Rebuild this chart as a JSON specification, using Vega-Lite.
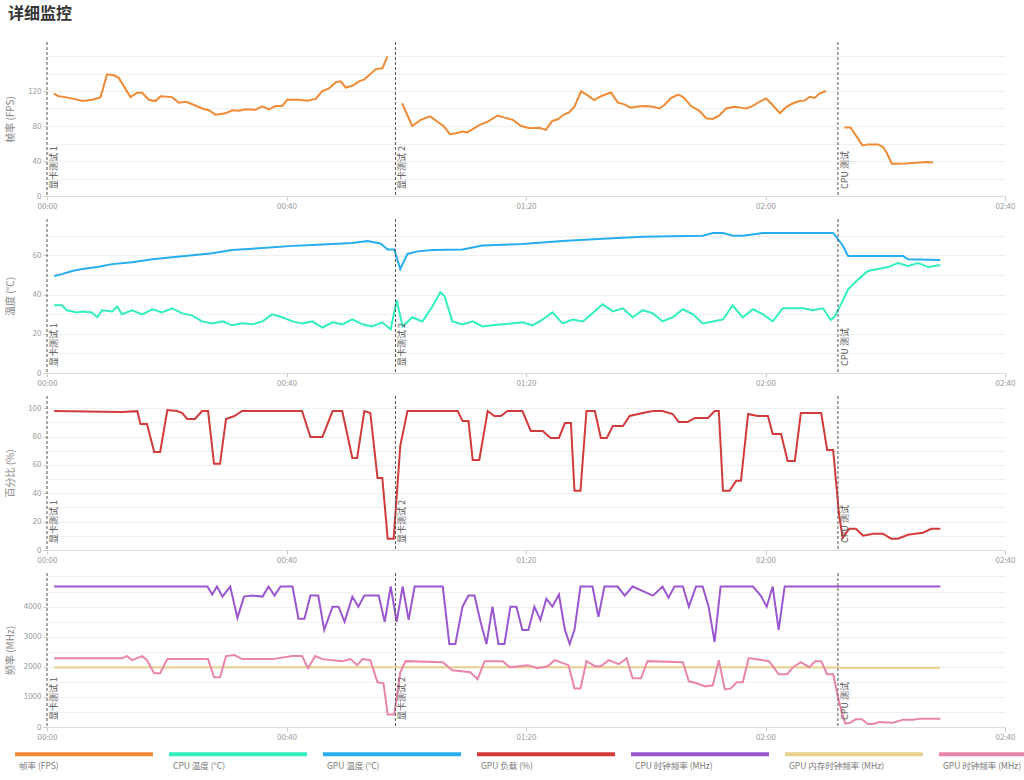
{
  "$schema": "https://vega.github.io/schema/vega-lite/v6.json",
  "background": "white",
  "padding": {"left": 5, "top": 5, "right": 5, "bottom": 5},
  "title": {"text": "详细监控", "anchor": "start", "fontSize": 16, "fontWeight": "bold", "color": "#333", "font": "Noto Sans CJK SC", "offset": 20, "dx": 3},
  "config": {
    "font": "Noto Sans CJK SC",
    "view": {"stroke": null},
    "axis": {"labelColor": "#999", "labelFontSize": 8, "titleColor": "#888", "titleFontSize": 10, "titleFontWeight": "normal", "gridColor": "#f0f0f0", "domainColor": "#ddd", "tickColor": "#ccc", "tickSize": 4, "labelOverlap": false},
    "axisY": {"titleX": -32}
  },
  "datasets": {
    "marks": [
      {"t": 0, "label": "显卡测试 1"},
      {"t": 58.2, "label": "显卡测试 2"},
      {"t": 132.1, "label": "CPU 测试"}
    ],
    "fps": [
      {"t": 1.12, "v": 117, "seg": 1}, {"t": 1.95, "v": 114, "seg": 1}, {"t": 3.07, "v": 113, "seg": 1}, {"t": 4.46, "v": 111, "seg": 1}, {"t": 5.96, "v": 108.5, "seg": 1}, {"t": 7.53, "v": 110, "seg": 1}, {"t": 8.92, "v": 112.6, "seg": 1}, {"t": 10.03, "v": 139, "seg": 1}, {"t": 11.15, "v": 138, "seg": 1}, {"t": 11.98, "v": 135, "seg": 1}, {"t": 13.94, "v": 113, "seg": 1}, {"t": 15.05, "v": 118, "seg": 1}, {"t": 15.89, "v": 118, "seg": 1}, {"t": 17.0, "v": 110, "seg": 1}, {"t": 18.12, "v": 108.5, "seg": 1}, {"t": 18.95, "v": 114, "seg": 1}, {"t": 20.9, "v": 113, "seg": 1}, {"t": 22.02, "v": 106.6, "seg": 1}, {"t": 23.13, "v": 107.7, "seg": 1}, {"t": 23.69, "v": 106.6, "seg": 1}, {"t": 25.92, "v": 100, "seg": 1}, {"t": 27.03, "v": 98, "seg": 1}, {"t": 28.15, "v": 93, "seg": 1}, {"t": 29.82, "v": 94.5, "seg": 1}, {"t": 30.94, "v": 98, "seg": 1}, {"t": 32.05, "v": 97.5, "seg": 1}, {"t": 33.17, "v": 99, "seg": 1}, {"t": 34.84, "v": 98.7, "seg": 1}, {"t": 35.95, "v": 102.4, "seg": 1}, {"t": 37.07, "v": 99, "seg": 1}, {"t": 38.18, "v": 103, "seg": 1}, {"t": 39.3, "v": 103, "seg": 1}, {"t": 40.13, "v": 110, "seg": 1}, {"t": 42.08, "v": 110, "seg": 1}, {"t": 43.48, "v": 109, "seg": 1}, {"t": 44.87, "v": 111, "seg": 1}, {"t": 45.99, "v": 120, "seg": 1}, {"t": 47.1, "v": 123, "seg": 1}, {"t": 48.22, "v": 130, "seg": 1}, {"t": 49.05, "v": 131, "seg": 1}, {"t": 49.89, "v": 124, "seg": 1}, {"t": 51.0, "v": 126, "seg": 1}, {"t": 52.12, "v": 131, "seg": 1}, {"t": 52.95, "v": 133, "seg": 1}, {"t": 53.79, "v": 138, "seg": 1}, {"t": 54.9, "v": 145, "seg": 1}, {"t": 56.02, "v": 146, "seg": 1}, {"t": 56.86, "v": 159.5, "seg": 1},
      {"t": 59.3, "v": 106, "seg": 2}, {"t": 61.0, "v": 80, "seg": 2}, {"t": 62.4, "v": 87, "seg": 2}, {"t": 64.0, "v": 91, "seg": 2}, {"t": 65.4, "v": 84, "seg": 2}, {"t": 66.3, "v": 79.4, "seg": 2}, {"t": 67.3, "v": 70.7, "seg": 2}, {"t": 68.3, "v": 71.8, "seg": 2}, {"t": 69.4, "v": 73.7, "seg": 2}, {"t": 70.2, "v": 72.6, "seg": 2}, {"t": 72.2, "v": 81, "seg": 2}, {"t": 73.6, "v": 85, "seg": 2}, {"t": 75.3, "v": 92, "seg": 2}, {"t": 76.4, "v": 89.6, "seg": 2}, {"t": 77.8, "v": 87, "seg": 2}, {"t": 79.2, "v": 80, "seg": 2}, {"t": 80.6, "v": 77.5, "seg": 2}, {"t": 82.2, "v": 78, "seg": 2}, {"t": 83.3, "v": 75.6, "seg": 2}, {"t": 84.4, "v": 85.8, "seg": 2}, {"t": 85.3, "v": 87.7, "seg": 2}, {"t": 86.4, "v": 93.4, "seg": 2}, {"t": 87.2, "v": 95.6, "seg": 2}, {"t": 88.1, "v": 102, "seg": 2}, {"t": 89.2, "v": 119.8, "seg": 2}, {"t": 90.3, "v": 115, "seg": 2}, {"t": 91.4, "v": 109.6, "seg": 2}, {"t": 92.5, "v": 114, "seg": 2}, {"t": 94.2, "v": 118.3, "seg": 2}, {"t": 95.3, "v": 107, "seg": 2}, {"t": 96.4, "v": 104.7, "seg": 2}, {"t": 97.5, "v": 101, "seg": 2}, {"t": 98.7, "v": 102.4, "seg": 2}, {"t": 100.0, "v": 102.8, "seg": 2}, {"t": 101.2, "v": 102, "seg": 2}, {"t": 102.3, "v": 100, "seg": 2}, {"t": 103.1, "v": 104, "seg": 2}, {"t": 104.2, "v": 112, "seg": 2}, {"t": 105.4, "v": 116, "seg": 2}, {"t": 106.2, "v": 113.4, "seg": 2}, {"t": 107.6, "v": 102.8, "seg": 2}, {"t": 109.0, "v": 97, "seg": 2}, {"t": 110.1, "v": 88.8, "seg": 2}, {"t": 111.2, "v": 88, "seg": 2}, {"t": 112.3, "v": 92, "seg": 2}, {"t": 113.4, "v": 100, "seg": 2}, {"t": 114.8, "v": 102, "seg": 2}, {"t": 115.9, "v": 101, "seg": 2}, {"t": 116.8, "v": 100, "seg": 2}, {"t": 117.9, "v": 103, "seg": 2}, {"t": 119.0, "v": 107.7, "seg": 2}, {"t": 120.1, "v": 111.5, "seg": 2}, {"t": 121.2, "v": 104, "seg": 2}, {"t": 122.4, "v": 94.5, "seg": 2}, {"t": 123.5, "v": 102, "seg": 2}, {"t": 124.6, "v": 106, "seg": 2}, {"t": 125.7, "v": 108.5, "seg": 2}, {"t": 126.5, "v": 109, "seg": 2}, {"t": 127.4, "v": 113.4, "seg": 2}, {"t": 128.2, "v": 112, "seg": 2}, {"t": 129.0, "v": 117, "seg": 2}, {"t": 130.1, "v": 120, "seg": 2},
      {"t": 133.2, "v": 78.3, "seg": 3}, {"t": 134.2, "v": 78.3, "seg": 3}, {"t": 136.2, "v": 57.8, "seg": 3}, {"t": 137.1, "v": 59, "seg": 3}, {"t": 138.8, "v": 59, "seg": 3}, {"t": 139.6, "v": 56, "seg": 3}, {"t": 140.2, "v": 50, "seg": 3}, {"t": 141.1, "v": 37, "seg": 3}, {"t": 142.1, "v": 37, "seg": 3}, {"t": 143.5, "v": 37.2, "seg": 3}, {"t": 145.2, "v": 38, "seg": 3}, {"t": 146.9, "v": 38.8, "seg": 3}, {"t": 148.0, "v": 38.4, "seg": 3}
    ],
    "gpuTemp": [
      {"t": 1.2, "v": 49.4}, {"t": 2.5, "v": 50.4}, {"t": 4.2, "v": 52}, {"t": 5.9, "v": 53}, {"t": 8.4, "v": 54}, {"t": 10.9, "v": 55.5}, {"t": 14.2, "v": 56.5}, {"t": 17.6, "v": 58}, {"t": 20.9, "v": 59}, {"t": 24.3, "v": 60}, {"t": 27.6, "v": 61}, {"t": 30.9, "v": 62.7}, {"t": 36.0, "v": 63.7}, {"t": 41.0, "v": 64.8}, {"t": 44.3, "v": 65.3}, {"t": 47.7, "v": 65.8}, {"t": 51.0, "v": 66.3}, {"t": 53.5, "v": 67.3}, {"t": 55.7, "v": 66}, {"t": 56.9, "v": 63}, {"t": 58.0, "v": 63}, {"t": 59.0, "v": 53}, {"t": 60.2, "v": 60.7}, {"t": 61.9, "v": 62}, {"t": 64.4, "v": 62.7}, {"t": 69.4, "v": 63}, {"t": 72.7, "v": 65}, {"t": 79.4, "v": 65.8}, {"t": 86.1, "v": 67.3}, {"t": 92.8, "v": 68.4}, {"t": 99.5, "v": 69.4}, {"t": 109.5, "v": 70}, {"t": 111.2, "v": 71.4}, {"t": 112.9, "v": 71.4}, {"t": 114.6, "v": 70}, {"t": 116.2, "v": 70}, {"t": 119.6, "v": 71.4}, {"t": 131.3, "v": 71.4}, {"t": 132.9, "v": 65}, {"t": 133.8, "v": 59.6}, {"t": 143.0, "v": 59.6}, {"t": 143.8, "v": 58}, {"t": 149.2, "v": 57.6}
    ],
    "cpuTemp": [
      {"t": 1.2, "v": 34.5}, {"t": 2.5, "v": 34.5}, {"t": 3.3, "v": 32}, {"t": 5.0, "v": 30.9}, {"t": 5.9, "v": 31.4}, {"t": 7.5, "v": 30.9}, {"t": 8.4, "v": 28.4}, {"t": 9.2, "v": 32}, {"t": 10.9, "v": 31.4}, {"t": 11.7, "v": 34}, {"t": 12.5, "v": 30}, {"t": 14.2, "v": 32}, {"t": 15.9, "v": 29.9}, {"t": 17.6, "v": 32.5}, {"t": 19.2, "v": 30.9}, {"t": 20.9, "v": 33}, {"t": 22.6, "v": 30.4}, {"t": 24.2, "v": 29.4}, {"t": 25.9, "v": 26.3}, {"t": 27.6, "v": 25.3}, {"t": 29.3, "v": 26.3}, {"t": 30.9, "v": 24.3}, {"t": 32.6, "v": 25.3}, {"t": 34.3, "v": 24.8}, {"t": 36.0, "v": 26.3}, {"t": 37.6, "v": 29.9}, {"t": 39.3, "v": 28.4}, {"t": 41.0, "v": 26.3}, {"t": 42.6, "v": 25.3}, {"t": 44.3, "v": 26.3}, {"t": 46.0, "v": 23.2}, {"t": 47.7, "v": 25.8}, {"t": 49.3, "v": 24.8}, {"t": 51.0, "v": 27.3}, {"t": 52.7, "v": 24.8}, {"t": 54.3, "v": 23.7}, {"t": 56.0, "v": 25.8}, {"t": 57.4, "v": 22.2}, {"t": 58.4, "v": 37.1}, {"t": 59.4, "v": 23.7}, {"t": 61.0, "v": 28.4}, {"t": 62.7, "v": 26.3}, {"t": 64.4, "v": 34}, {"t": 65.7, "v": 41.2}, {"t": 66.4, "v": 39.1}, {"t": 67.7, "v": 26.3}, {"t": 69.4, "v": 24.8}, {"t": 71.1, "v": 26.3}, {"t": 72.7, "v": 23.7}, {"t": 74.4, "v": 24.3}, {"t": 76.1, "v": 24.8}, {"t": 77.8, "v": 25.3}, {"t": 79.4, "v": 25.8}, {"t": 81.1, "v": 24.3}, {"t": 82.8, "v": 27.3}, {"t": 84.4, "v": 30.9}, {"t": 86.1, "v": 25.3}, {"t": 87.8, "v": 27.3}, {"t": 89.5, "v": 26.3}, {"t": 91.1, "v": 30.4}, {"t": 92.8, "v": 35}, {"t": 94.5, "v": 31.4}, {"t": 96.2, "v": 33}, {"t": 97.8, "v": 28.4}, {"t": 99.5, "v": 32}, {"t": 101.2, "v": 30.4}, {"t": 102.8, "v": 26.3}, {"t": 104.5, "v": 28.4}, {"t": 106.2, "v": 32.5}, {"t": 107.9, "v": 29.9}, {"t": 109.5, "v": 25.3}, {"t": 111.2, "v": 26.3}, {"t": 112.9, "v": 27.3}, {"t": 114.5, "v": 34.5}, {"t": 116.2, "v": 28.4}, {"t": 117.9, "v": 32.5}, {"t": 119.6, "v": 29.9}, {"t": 121.2, "v": 26.3}, {"t": 122.9, "v": 33}, {"t": 124.6, "v": 33}, {"t": 126.3, "v": 33}, {"t": 127.9, "v": 32}, {"t": 129.6, "v": 33}, {"t": 130.9, "v": 27}, {"t": 131.6, "v": 29}, {"t": 132.6, "v": 35}, {"t": 133.8, "v": 42.7}, {"t": 135.5, "v": 47.8}, {"t": 137.1, "v": 52}, {"t": 138.8, "v": 53}, {"t": 140.5, "v": 54}, {"t": 142.1, "v": 56}, {"t": 143.8, "v": 54.5}, {"t": 145.5, "v": 56}, {"t": 147.2, "v": 54}, {"t": 149.2, "v": 55}
    ],
    "gpuLoad": [
      {"t": 1.2, "v": 98.1}, {"t": 12.5, "v": 97.4}, {"t": 15.1, "v": 98}, {"t": 15.6, "v": 89}, {"t": 16.7, "v": 89}, {"t": 17.9, "v": 69.2}, {"t": 18.9, "v": 69.2}, {"t": 20.1, "v": 98.8}, {"t": 21.7, "v": 98.1}, {"t": 22.6, "v": 96.7}, {"t": 23.4, "v": 92.5}, {"t": 24.7, "v": 92.5}, {"t": 25.9, "v": 98.1}, {"t": 26.9, "v": 98.1}, {"t": 27.9, "v": 60.8}, {"t": 28.9, "v": 60.8}, {"t": 29.9, "v": 92.5}, {"t": 31.3, "v": 94.6}, {"t": 32.6, "v": 98.1}, {"t": 42.6, "v": 98.1}, {"t": 44.0, "v": 79.8}, {"t": 46.0, "v": 79.8}, {"t": 47.7, "v": 98.1}, {"t": 49.3, "v": 98.1}, {"t": 51.0, "v": 65}, {"t": 51.8, "v": 65}, {"t": 53.0, "v": 98.1}, {"t": 54.0, "v": 96.7}, {"t": 55.2, "v": 50.9}, {"t": 56.0, "v": 50.9}, {"t": 56.9, "v": 8}, {"t": 57.9, "v": 8}, {"t": 59.0, "v": 73.5}, {"t": 60.2, "v": 98.1}, {"t": 68.6, "v": 98.1}, {"t": 69.4, "v": 91}, {"t": 70.4, "v": 91}, {"t": 71.1, "v": 63.6}, {"t": 72.2, "v": 63.6}, {"t": 73.6, "v": 98.1}, {"t": 74.7, "v": 94.6}, {"t": 75.8, "v": 94.6}, {"t": 76.9, "v": 98.1}, {"t": 79.4, "v": 98.1}, {"t": 80.8, "v": 84}, {"t": 82.8, "v": 84}, {"t": 84.1, "v": 79.1}, {"t": 85.5, "v": 79.1}, {"t": 86.5, "v": 89.6}, {"t": 87.5, "v": 89.6}, {"t": 88.1, "v": 41.8}, {"t": 89.1, "v": 41.8}, {"t": 90.1, "v": 98.1}, {"t": 91.5, "v": 98.1}, {"t": 92.5, "v": 79.1}, {"t": 93.5, "v": 79.1}, {"t": 94.5, "v": 87.5}, {"t": 96.2, "v": 87.5}, {"t": 97.3, "v": 94.6}, {"t": 99.5, "v": 96.7}, {"t": 101.2, "v": 98.1}, {"t": 102.8, "v": 98.1}, {"t": 104.5, "v": 96}, {"t": 105.5, "v": 90.4}, {"t": 107.0, "v": 90.4}, {"t": 108.2, "v": 93.2}, {"t": 110.4, "v": 93.2}, {"t": 111.5, "v": 98.1}, {"t": 112.2, "v": 98.1}, {"t": 112.9, "v": 41.8}, {"t": 114.0, "v": 41.8}, {"t": 115.1, "v": 48.8}, {"t": 115.9, "v": 48.8}, {"t": 117.1, "v": 96}, {"t": 118.7, "v": 94.6}, {"t": 120.4, "v": 94.6}, {"t": 121.2, "v": 81.9}, {"t": 122.6, "v": 81.9}, {"t": 123.7, "v": 62.9}, {"t": 124.9, "v": 62.9}, {"t": 125.9, "v": 96.7}, {"t": 129.3, "v": 96.7}, {"t": 130.3, "v": 70.6}, {"t": 131.3, "v": 70.6}, {"t": 132.3, "v": 24.2}, {"t": 132.9, "v": 8.7}, {"t": 134.0, "v": 15}, {"t": 135.1, "v": 15}, {"t": 136.3, "v": 10.1}, {"t": 138.0, "v": 11.5}, {"t": 139.6, "v": 11.5}, {"t": 141.0, "v": 8}, {"t": 142.1, "v": 8}, {"t": 143.8, "v": 10.8}, {"t": 145.0, "v": 11.5}, {"t": 146.3, "v": 12.2}, {"t": 147.7, "v": 15}, {"t": 149.2, "v": 15}
    ],
    "cpuClock": [
      {"t": 1.2, "v": 4667}, {"t": 26.8, "v": 4667}, {"t": 27.6, "v": 4399}, {"t": 28.4, "v": 4667}, {"t": 29.3, "v": 4332}, {"t": 30.6, "v": 4667}, {"t": 31.8, "v": 3628}, {"t": 32.9, "v": 4332}, {"t": 34.3, "v": 4365}, {"t": 36.0, "v": 4332}, {"t": 37.0, "v": 4667}, {"t": 38.0, "v": 4365}, {"t": 39.0, "v": 4667}, {"t": 41.0, "v": 4667}, {"t": 42.0, "v": 3595}, {"t": 43.0, "v": 3595}, {"t": 44.0, "v": 4365}, {"t": 45.3, "v": 4365}, {"t": 46.3, "v": 3226}, {"t": 47.7, "v": 3997}, {"t": 48.7, "v": 3997}, {"t": 49.7, "v": 3494}, {"t": 51.0, "v": 4332}, {"t": 52.0, "v": 3997}, {"t": 53.0, "v": 4365}, {"t": 55.4, "v": 4365}, {"t": 56.4, "v": 3494}, {"t": 57.4, "v": 4667}, {"t": 58.4, "v": 3494}, {"t": 59.4, "v": 4667}, {"t": 60.4, "v": 3561}, {"t": 61.4, "v": 4667}, {"t": 66.1, "v": 4667}, {"t": 67.2, "v": 2757}, {"t": 68.2, "v": 2757}, {"t": 69.4, "v": 3997}, {"t": 70.4, "v": 4365}, {"t": 71.4, "v": 4365}, {"t": 72.4, "v": 3494}, {"t": 73.4, "v": 2757}, {"t": 74.4, "v": 3997}, {"t": 75.4, "v": 2757}, {"t": 76.4, "v": 2757}, {"t": 77.4, "v": 3997}, {"t": 78.4, "v": 3997}, {"t": 79.4, "v": 3226}, {"t": 80.4, "v": 3226}, {"t": 81.4, "v": 3997}, {"t": 82.4, "v": 3561}, {"t": 83.4, "v": 4265}, {"t": 84.4, "v": 3997}, {"t": 85.5, "v": 4399}, {"t": 86.5, "v": 3226}, {"t": 87.3, "v": 2757}, {"t": 88.1, "v": 3226}, {"t": 89.1, "v": 4667}, {"t": 91.1, "v": 4667}, {"t": 92.1, "v": 3662}, {"t": 93.1, "v": 4667}, {"t": 95.3, "v": 4667}, {"t": 96.5, "v": 4365}, {"t": 97.8, "v": 4667}, {"t": 101.2, "v": 4365}, {"t": 102.8, "v": 4667}, {"t": 103.8, "v": 4298}, {"t": 104.8, "v": 4667}, {"t": 106.2, "v": 4667}, {"t": 107.2, "v": 3997}, {"t": 108.4, "v": 4667}, {"t": 109.5, "v": 4667}, {"t": 110.5, "v": 3997}, {"t": 111.5, "v": 2824}, {"t": 112.5, "v": 4667}, {"t": 117.9, "v": 4667}, {"t": 119.2, "v": 4365}, {"t": 120.2, "v": 3997}, {"t": 121.2, "v": 4667}, {"t": 122.2, "v": 3226}, {"t": 123.2, "v": 4667}, {"t": 149.2, "v": 4667}
    ],
    "gpuMem": [
      {"t": 1.2, "v": 1980}, {"t": 60.0, "v": 1985}, {"t": 100.0, "v": 1985}, {"t": 132.0, "v": 1980}, {"t": 133.0, "v": 1970}, {"t": 149.2, "v": 1968}
    ],
    "gpuClock": [
      {"t": 1.2, "v": 2288}, {"t": 12.5, "v": 2288}, {"t": 13.4, "v": 2355}, {"t": 14.2, "v": 2221}, {"t": 15.9, "v": 2355}, {"t": 16.7, "v": 2221}, {"t": 17.9, "v": 1786}, {"t": 18.9, "v": 1786}, {"t": 20.1, "v": 2255}, {"t": 22.6, "v": 2255}, {"t": 26.9, "v": 2255}, {"t": 27.9, "v": 1652}, {"t": 28.9, "v": 1652}, {"t": 29.9, "v": 2355}, {"t": 31.3, "v": 2389}, {"t": 32.6, "v": 2255}, {"t": 37.6, "v": 2255}, {"t": 41.0, "v": 2355}, {"t": 42.6, "v": 2355}, {"t": 43.6, "v": 1953}, {"t": 44.8, "v": 2355}, {"t": 46.0, "v": 2255}, {"t": 49.3, "v": 2188}, {"t": 50.7, "v": 2255}, {"t": 51.8, "v": 2054}, {"t": 52.7, "v": 2255}, {"t": 54.0, "v": 2221}, {"t": 55.2, "v": 1484}, {"t": 56.2, "v": 1451}, {"t": 56.9, "v": 412}, {"t": 58.0, "v": 412}, {"t": 59.0, "v": 1819}, {"t": 59.9, "v": 2188}, {"t": 66.1, "v": 2154}, {"t": 67.7, "v": 1886}, {"t": 70.7, "v": 1819}, {"t": 71.9, "v": 1585}, {"t": 73.1, "v": 2188}, {"t": 76.1, "v": 2188}, {"t": 77.3, "v": 1987}, {"t": 80.3, "v": 2054}, {"t": 81.9, "v": 1953}, {"t": 83.6, "v": 2020}, {"t": 84.8, "v": 2221}, {"t": 87.1, "v": 2054}, {"t": 88.1, "v": 1283}, {"t": 89.1, "v": 1283}, {"t": 90.1, "v": 2188}, {"t": 91.5, "v": 2020}, {"t": 92.5, "v": 2020}, {"t": 93.8, "v": 2221}, {"t": 95.5, "v": 2087}, {"t": 96.8, "v": 2288}, {"t": 97.8, "v": 1618}, {"t": 99.2, "v": 1618}, {"t": 100.3, "v": 2188}, {"t": 106.2, "v": 2154}, {"t": 107.2, "v": 1518}, {"t": 108.5, "v": 1451}, {"t": 109.9, "v": 1350}, {"t": 111.2, "v": 1384}, {"t": 112.2, "v": 2221}, {"t": 113.2, "v": 1250}, {"t": 114.2, "v": 1283}, {"t": 115.2, "v": 1484}, {"t": 116.2, "v": 1484}, {"t": 117.2, "v": 2288}, {"t": 120.6, "v": 2188}, {"t": 122.2, "v": 1752}, {"t": 123.6, "v": 1752}, {"t": 124.6, "v": 1987}, {"t": 125.9, "v": 2154}, {"t": 127.3, "v": 1987}, {"t": 128.3, "v": 2188}, {"t": 129.3, "v": 2188}, {"t": 130.3, "v": 1752}, {"t": 131.3, "v": 1752}, {"t": 132.3, "v": 814}, {"t": 133.3, "v": 120}, {"t": 134.0, "v": 130}, {"t": 135.1, "v": 255}, {"t": 136.1, "v": 255}, {"t": 137.1, "v": 100}, {"t": 138.0, "v": 100}, {"t": 139.0, "v": 167}, {"t": 141.3, "v": 140}, {"t": 143.0, "v": 244}, {"t": 144.6, "v": 244}, {"t": 145.8, "v": 278}, {"t": 149.2, "v": 278}
    ]
  },
  "spacing": 8,
  "vconcat": [
    {
      "width": 958, "height": 154,
      "resolve": {"axis": {"y": "independent"}},
      "encoding": {
        "x": {"field": "t", "type": "quantitative", "scale": {"domain": [0, 160], "nice": false}, "axis": {"title": null, "values": [0, 40, 80, 120, 160], "grid": false, "labelFlush": false, "labelExpr": "pad(floor(datum.value/60),2,'0','left')+':'+pad(datum.value%60,2,'0','left')"}}
      },
      "layer": [
        {"data": {"name": "fps"}, "mark": {"type": "line", "strokeWidth": 2},
         "encoding": {
           "y": {"field": "v", "type": "quantitative", "scale": {"domain": [0, 176], "nice": false}, "axis": {"title": "帧率 (FPS)", "orient": "left", "domain": false, "grid": false, "values": [0, 40, 80, 120]}},
           "color": {"datum": "帧率 (FPS)", "type": "nominal", "scale": {"domain": ["帧率 (FPS)", "CPU 温度 (°C)", "GPU 温度 (°C)", "GPU 负载 (%)", "CPU 时钟频率 (MHz)", "GPU 内存时钟频率 (MHz)", "GPU 时钟频率 (MHz)"], "range": ["#ef8a36", "#33efc0", "#27aef0", "#d23b3b", "#9b57d0", "#e8d08c", "#e985ad"]},
             "legend": {"title": null, "orient": "none", "legendX": -34, "legendY": 653, "direction": "horizontal", "columns": 7, "gridAlign": "none", "symbolType": "M-1,-0.17H1", "symbolSize": 19044, "symbolStrokeWidth": 4, "labelOffset": -136, "columnPadding": 0, "labelFontSize": 8.5, "labelColor": "#777"}},
           "detail": {"field": "seg", "type": "nominal"}
         }},
        {"data": {"name": "marks"}, "mark": {"type": "rule", "strokeDash": [3, 2], "color": "#555", "strokeWidth": 1}, "encoding": {}},
        {"data": {"name": "marks"}, "mark": {"type": "text", "angle": 270, "align": "left", "baseline": "top", "dx": 7, "dy": 3, "fontSize": 9, "color": "#555"}, "encoding": {"y": {"datum": 0, "type": "quantitative", "axis": {"title": null, "orient": "left", "values": [0, 20, 40, 60, 80, 100, 120, 140, 160], "grid": true, "labels": false, "ticks": false, "domain": false}}, "text": {"field": "label"}}}
      ]
    },
    {
      "width": 958, "height": 154,
      "resolve": {"axis": {"y": "independent"}},
      "encoding": {
        "x": {"field": "t", "type": "quantitative", "scale": {"domain": [0, 160], "nice": false}, "axis": {"title": null, "values": [0, 40, 80, 120, 160], "grid": false, "labelFlush": false, "labelExpr": "pad(floor(datum.value/60),2,'0','left')+':'+pad(datum.value%60,2,'0','left')"}}
      },
      "layer": [
        {"data": {"name": "gpuTemp"}, "mark": {"type": "line", "strokeWidth": 2},
         "encoding": {
           "y": {"field": "v", "type": "quantitative", "scale": {"domain": [0, 78.5], "nice": false}, "axis": {"title": "温度 (°C)", "orient": "left", "domain": false, "grid": false, "values": [0, 20, 40, 60]}},
           "color": {"datum": "GPU 温度 (°C)", "type": "nominal", "scale": {"domain": ["帧率 (FPS)", "CPU 温度 (°C)", "GPU 温度 (°C)", "GPU 负载 (%)", "CPU 时钟频率 (MHz)", "GPU 内存时钟频率 (MHz)", "GPU 时钟频率 (MHz)"], "range": ["#ef8a36", "#33efc0", "#27aef0", "#d23b3b", "#9b57d0", "#e8d08c", "#e985ad"]},
             "legend": {"title": null, "orient": "none", "legendX": -34, "legendY": 653, "direction": "horizontal", "columns": 7, "gridAlign": "none", "symbolType": "M-1,-0.17H1", "symbolSize": 19044, "symbolStrokeWidth": 4, "labelOffset": -136, "columnPadding": 0, "labelFontSize": 8.5, "labelColor": "#777"}}
         }},
        {"data": {"name": "cpuTemp"}, "mark": {"type": "line", "strokeWidth": 2},
         "encoding": {
           "y": {"field": "v", "type": "quantitative", "axis": null},
           "color": {"datum": "CPU 温度 (°C)", "type": "nominal", "scale": {"domain": ["帧率 (FPS)", "CPU 温度 (°C)", "GPU 温度 (°C)", "GPU 负载 (%)", "CPU 时钟频率 (MHz)", "GPU 内存时钟频率 (MHz)", "GPU 时钟频率 (MHz)"], "range": ["#ef8a36", "#33efc0", "#27aef0", "#d23b3b", "#9b57d0", "#e8d08c", "#e985ad"]},
             "legend": {"title": null, "orient": "none", "legendX": -34, "legendY": 653, "direction": "horizontal", "columns": 7, "gridAlign": "none", "symbolType": "M-1,-0.17H1", "symbolSize": 19044, "symbolStrokeWidth": 4, "labelOffset": -136, "columnPadding": 0, "labelFontSize": 8.5, "labelColor": "#777"}}
         }},
        {"data": {"name": "marks"}, "mark": {"type": "rule", "strokeDash": [3, 2], "color": "#555", "strokeWidth": 1}, "encoding": {}},
        {"data": {"name": "marks"}, "mark": {"type": "text", "angle": 270, "align": "left", "baseline": "top", "dx": 7, "dy": 3, "fontSize": 9, "color": "#555"}, "encoding": {"y": {"datum": 0, "type": "quantitative", "axis": {"title": null, "orient": "left", "values": [0, 10, 20, 30, 40, 50, 60, 70], "grid": true, "labels": false, "ticks": false, "domain": false}}, "text": {"field": "label"}}}
      ]
    },
    {
      "width": 958, "height": 154,
      "resolve": {"axis": {"y": "independent"}},
      "encoding": {
        "x": {"field": "t", "type": "quantitative", "scale": {"domain": [0, 160], "nice": false}, "axis": {"title": null, "values": [0, 40, 80, 120, 160], "grid": false, "labelFlush": false, "labelExpr": "pad(floor(datum.value/60),2,'0','left')+':'+pad(datum.value%60,2,'0','left')"}}
      },
      "layer": [
        {"data": {"name": "gpuLoad"}, "mark": {"type": "line", "strokeWidth": 2},
         "encoding": {
           "y": {"field": "v", "type": "quantitative", "scale": {"domain": [0, 108.7], "nice": false}, "axis": {"title": "百分比 (%)", "orient": "left", "domain": false, "grid": false, "values": [0, 20, 40, 60, 80, 100]}},
           "color": {"datum": "GPU 负载 (%)", "type": "nominal", "scale": {"domain": ["帧率 (FPS)", "CPU 温度 (°C)", "GPU 温度 (°C)", "GPU 负载 (%)", "CPU 时钟频率 (MHz)", "GPU 内存时钟频率 (MHz)", "GPU 时钟频率 (MHz)"], "range": ["#ef8a36", "#33efc0", "#27aef0", "#d23b3b", "#9b57d0", "#e8d08c", "#e985ad"]},
             "legend": {"title": null, "orient": "none", "legendX": -34, "legendY": 653, "direction": "horizontal", "columns": 7, "gridAlign": "none", "symbolType": "M-1,-0.17H1", "symbolSize": 19044, "symbolStrokeWidth": 4, "labelOffset": -136, "columnPadding": 0, "labelFontSize": 8.5, "labelColor": "#777"}}
         }},
        {"data": {"name": "marks"}, "mark": {"type": "rule", "strokeDash": [3, 2], "color": "#555", "strokeWidth": 1}, "encoding": {}},
        {"data": {"name": "marks"}, "mark": {"type": "text", "angle": 270, "align": "left", "baseline": "top", "dx": 7, "dy": 3, "fontSize": 9, "color": "#555"}, "encoding": {"y": {"datum": 0, "type": "quantitative", "axis": {"title": null, "orient": "left", "values": [0, 10, 20, 30, 40, 50, 60, 70, 80, 90, 100], "grid": true, "labels": false, "ticks": false, "domain": false}}, "text": {"field": "label"}}}
      ]
    },
    {
      "width": 958, "height": 154,
      "resolve": {"axis": {"y": "independent"}},
      "encoding": {
        "x": {"field": "t", "type": "quantitative", "scale": {"domain": [0, 160], "nice": false}, "axis": {"title": null, "values": [0, 40, 80, 120, 160], "grid": false, "labelFlush": false, "labelExpr": "pad(floor(datum.value/60),2,'0','left')+':'+pad(datum.value%60,2,'0','left')"}}
      },
      "layer": [
        {"data": {"name": "cpuClock"}, "mark": {"type": "line", "strokeWidth": 2},
         "encoding": {
           "y": {"field": "v", "type": "quantitative", "scale": {"domain": [0, 5116], "nice": false}, "axis": {"title": "频率 (MHz)", "orient": "left", "domain": false, "grid": false, "format": "d", "values": [0, 1000, 2000, 3000, 4000]}},
           "color": {"datum": "CPU 时钟频率 (MHz)", "type": "nominal", "scale": {"domain": ["帧率 (FPS)", "CPU 温度 (°C)", "GPU 温度 (°C)", "GPU 负载 (%)", "CPU 时钟频率 (MHz)", "GPU 内存时钟频率 (MHz)", "GPU 时钟频率 (MHz)"], "range": ["#ef8a36", "#33efc0", "#27aef0", "#d23b3b", "#9b57d0", "#e8d08c", "#e985ad"]},
             "legend": {"title": null, "orient": "none", "legendX": -34, "legendY": 653, "direction": "horizontal", "columns": 7, "gridAlign": "none", "symbolType": "M-1,-0.17H1", "symbolSize": 19044, "symbolStrokeWidth": 4, "labelOffset": -136, "columnPadding": 0, "labelFontSize": 8.5, "labelColor": "#777"}}
         }},
        {"data": {"name": "gpuMem"}, "mark": {"type": "line", "strokeWidth": 2},
         "encoding": {
           "y": {"field": "v", "type": "quantitative", "axis": null},
           "color": {"datum": "GPU 内存时钟频率 (MHz)", "type": "nominal", "scale": {"domain": ["帧率 (FPS)", "CPU 温度 (°C)", "GPU 温度 (°C)", "GPU 负载 (%)", "CPU 时钟频率 (MHz)", "GPU 内存时钟频率 (MHz)", "GPU 时钟频率 (MHz)"], "range": ["#ef8a36", "#33efc0", "#27aef0", "#d23b3b", "#9b57d0", "#e8d08c", "#e985ad"]},
             "legend": {"title": null, "orient": "none", "legendX": -34, "legendY": 653, "direction": "horizontal", "columns": 7, "gridAlign": "none", "symbolType": "M-1,-0.17H1", "symbolSize": 19044, "symbolStrokeWidth": 4, "labelOffset": -136, "columnPadding": 0, "labelFontSize": 8.5, "labelColor": "#777"}}
         }},
        {"data": {"name": "gpuClock"}, "mark": {"type": "line", "strokeWidth": 2},
         "encoding": {
           "y": {"field": "v", "type": "quantitative", "axis": null},
           "color": {"datum": "GPU 时钟频率 (MHz)", "type": "nominal", "scale": {"domain": ["帧率 (FPS)", "CPU 温度 (°C)", "GPU 温度 (°C)", "GPU 负载 (%)", "CPU 时钟频率 (MHz)", "GPU 内存时钟频率 (MHz)", "GPU 时钟频率 (MHz)"], "range": ["#ef8a36", "#33efc0", "#27aef0", "#d23b3b", "#9b57d0", "#e8d08c", "#e985ad"]},
             "legend": {"title": null, "orient": "none", "legendX": -34, "legendY": 653, "direction": "horizontal", "columns": 7, "gridAlign": "none", "symbolType": "M-1,-0.17H1", "symbolSize": 19044, "symbolStrokeWidth": 4, "labelOffset": -136, "columnPadding": 0, "labelFontSize": 8.5, "labelColor": "#777"}}
         }},
        {"data": {"name": "marks"}, "mark": {"type": "rule", "strokeDash": [3, 2], "color": "#555", "strokeWidth": 1}, "encoding": {}},
        {"data": {"name": "marks"}, "mark": {"type": "text", "angle": 270, "align": "left", "baseline": "top", "dx": 7, "dy": 3, "fontSize": 9, "color": "#555"}, "encoding": {"y": {"datum": 0, "type": "quantitative", "axis": {"title": null, "orient": "left", "values": [0, 500, 1000, 1500, 2000, 2500, 3000, 3500, 4000, 4500, 5000], "grid": true, "labels": false, "ticks": false, "domain": false}}, "text": {"field": "label"}}}
      ]
    }
  ]
}
